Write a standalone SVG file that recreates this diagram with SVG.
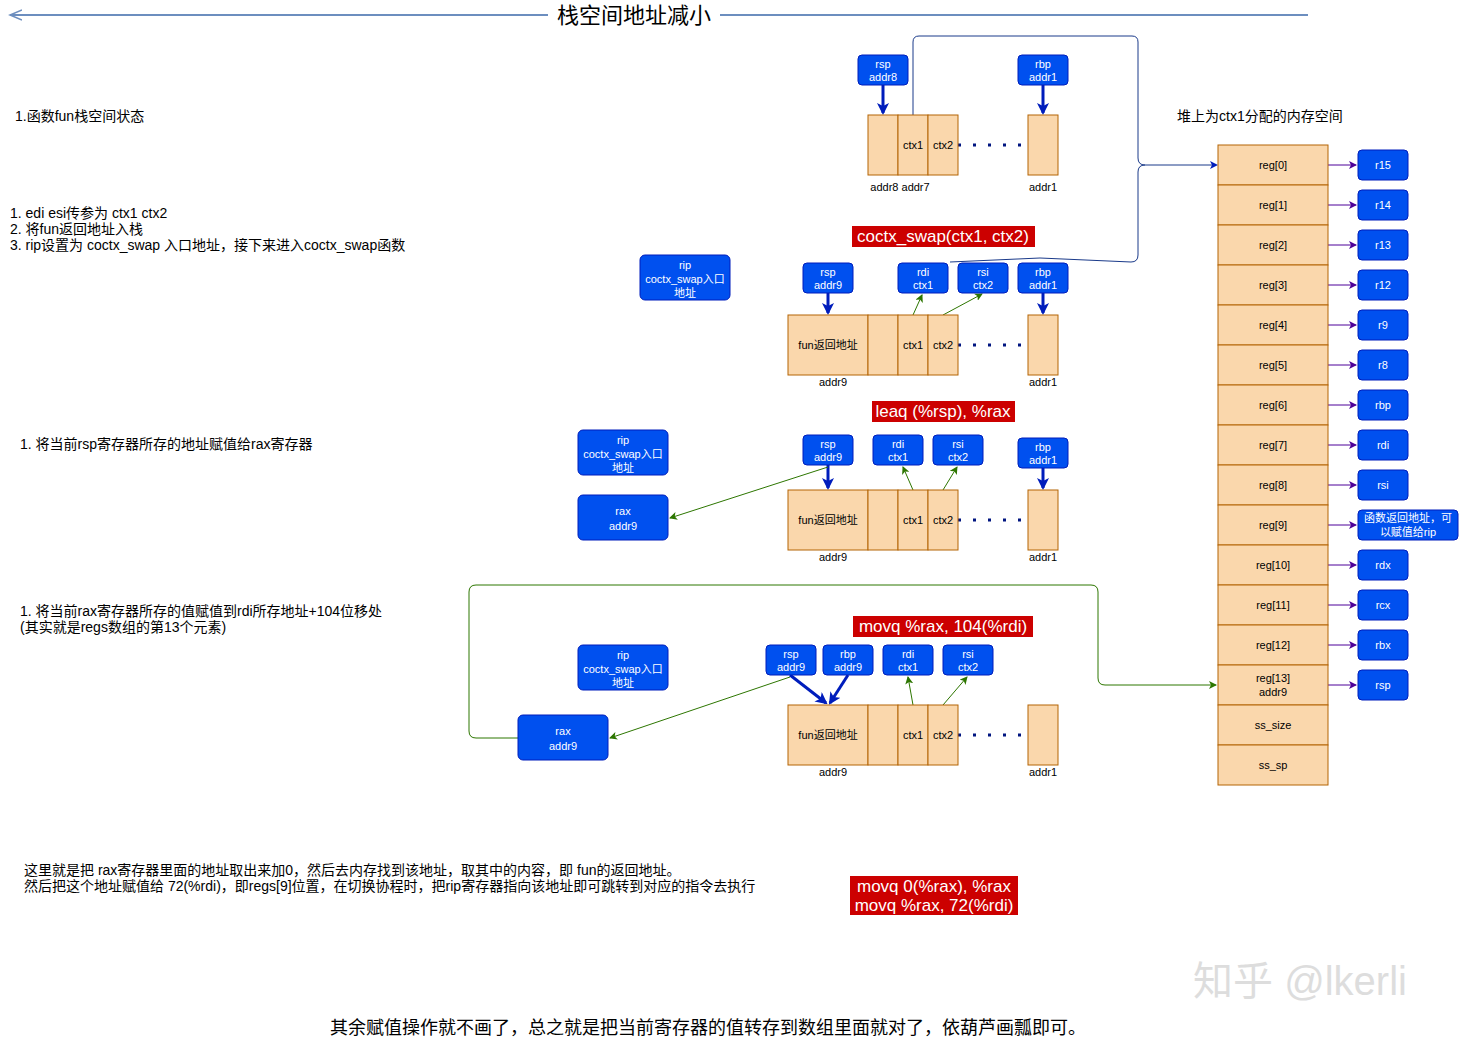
<svg xmlns="http://www.w3.org/2000/svg" width="1459" height="1039" viewBox="0 0 1459 1039">
<defs>
<style>
text{font-family:"Liberation Sans","Noto Sans CJK SC",sans-serif;}
.t{font-size:14px;fill:#000}
.bx{fill:#0050ef;stroke:#001dbc;stroke-width:1}
.bt{font-size:11px;fill:#fff;text-anchor:middle}
.c{fill:#fad7ac;stroke:#b46504;stroke-width:1}
.ct{font-size:11px;fill:#000;text-anchor:middle}
.lb{font-size:11px;fill:#000;text-anchor:middle}
.red{fill:#c00;}
.rt{font-size:17px;fill:#fff;text-anchor:middle}
.thick{stroke:#001dbc;stroke-width:3;fill:none}
.green{stroke:#2d7600;stroke-width:1;fill:none}
.dots{stroke:#001580;stroke-width:3;stroke-dasharray:3 12;fill:none}
.pur{stroke:#4c0099;stroke-width:1;fill:none}
</style>
<marker id="ab" markerWidth="8" markerHeight="8" refX="6" refY="4" orient="auto" markerUnits="userSpaceOnUse"><path d="M0,0 L8,4 L0,8 L2,4z" fill="#001dbc"/></marker>
<marker id="abig" markerWidth="12" markerHeight="12" refX="10" refY="6" orient="auto" markerUnits="userSpaceOnUse"><path d="M0,0 L12,6 L0,12 L3,6z" fill="#001dbc"/></marker>
<marker id="ag" markerWidth="8" markerHeight="8" refX="7" refY="4" orient="auto" markerUnits="userSpaceOnUse"><path d="M0,0 L8,4 L0,8 L2,4z" fill="#2d7600"/></marker>
<marker id="ap" markerWidth="8" markerHeight="8" refX="7" refY="4" orient="auto" markerUnits="userSpaceOnUse"><path d="M0,0 L8,4 L0,8 L2,4z" fill="#4c0099"/></marker>
<marker id="at" markerWidth="14" markerHeight="12" refX="12" refY="6" orient="auto" markerUnits="userSpaceOnUse"><path d="M0,1 L12,6 L0,11" fill="none" stroke="#6c8ebf" stroke-width="1.5"/></marker>
</defs>
<rect width="1459" height="1039" fill="#fff"/>
<g id="connectors">
<line x1="1308" y1="15" x2="10" y2="15" stroke="#6c8ebf" stroke-width="2" marker-end="url(#at)"/>
<path d="M913 115 V42 Q913 36 919 36 H1132 Q1138 36 1138 42 V158 Q1138 165 1145 165 H1216" stroke="#1a3a8a" stroke-width="1" fill="none" marker-end="url(#ab)"/>
<path d="M1145 165 Q1138 165 1138 172 V255 Q1138 262 1131 262 L1040 258 L950 262" stroke="#1a3a8a" stroke-width="1" fill="none"/>
<line x1="958" y1="145" x2="1028" y2="145" class="dots"/>
<line x1="958" y1="345" x2="1028" y2="345" class="dots"/>
<line x1="958" y1="520" x2="1028" y2="520" class="dots"/>
<line x1="958" y1="735" x2="1028" y2="735" class="dots"/>
<line x1="883" y1="85" x2="883" y2="113" class="thick" marker-end="url(#abig)"/>
<line x1="1043" y1="85" x2="1043" y2="113" class="thick" marker-end="url(#abig)"/>
<line x1="828" y1="293" x2="828" y2="313" class="thick" marker-end="url(#abig)"/>
<line x1="1043" y1="293" x2="1043" y2="313" class="thick" marker-end="url(#abig)"/>
<line x1="913" y1="315" x2="922" y2="295" class="green" marker-end="url(#ag)"/>
<line x1="943" y1="315" x2="982" y2="294" class="green" marker-end="url(#ag)"/>
<line x1="828" y1="465" x2="828" y2="488" class="thick" marker-end="url(#abig)"/>
<line x1="1043" y1="468" x2="1043" y2="488" class="thick" marker-end="url(#abig)"/>
<line x1="913" y1="490" x2="903" y2="467" class="green" marker-end="url(#ag)"/>
<line x1="943" y1="490" x2="957" y2="467" class="green" marker-end="url(#ag)"/>
<line x1="828" y1="467" x2="670" y2="518" class="green" marker-end="url(#ag)"/>
<line x1="790" y1="675" x2="826" y2="703" class="thick" marker-end="url(#abig)"/>
<line x1="848" y1="675" x2="830" y2="703" class="thick" marker-end="url(#abig)"/>
<line x1="913" y1="705" x2="908" y2="677" class="green" marker-end="url(#ag)"/>
<line x1="943" y1="705" x2="967" y2="677" class="green" marker-end="url(#ag)"/>
<line x1="790" y1="677" x2="610" y2="738" class="green" marker-end="url(#ag)"/>
<path d="M518 738 H476 Q469 738 469 731 V592 Q469 585 476 585 H1091 Q1098 585 1098 592 V678 Q1098 685 1105 685 H1216" class="green" marker-end="url(#ag)"/>
<g class="pur">
<line x1="1328" y1="165" x2="1356" y2="165" marker-end="url(#ap)"/>
<line x1="1328" y1="205" x2="1356" y2="205" marker-end="url(#ap)"/>
<line x1="1328" y1="245" x2="1356" y2="245" marker-end="url(#ap)"/>
<line x1="1328" y1="285" x2="1356" y2="285" marker-end="url(#ap)"/>
<line x1="1328" y1="325" x2="1356" y2="325" marker-end="url(#ap)"/>
<line x1="1328" y1="365" x2="1356" y2="365" marker-end="url(#ap)"/>
<line x1="1328" y1="405" x2="1356" y2="405" marker-end="url(#ap)"/>
<line x1="1328" y1="445" x2="1356" y2="445" marker-end="url(#ap)"/>
<line x1="1328" y1="485" x2="1356" y2="485" marker-end="url(#ap)"/>
<line x1="1328" y1="525" x2="1356" y2="525" marker-end="url(#ap)"/>
<line x1="1328" y1="565" x2="1356" y2="565" marker-end="url(#ap)"/>
<line x1="1328" y1="605" x2="1356" y2="605" marker-end="url(#ap)"/>
<line x1="1328" y1="645" x2="1356" y2="645" marker-end="url(#ap)"/>
<line x1="1328" y1="685" x2="1356" y2="685" marker-end="url(#ap)"/>
</g>
</g>
<g id="title"><rect x="548" y="3" width="172" height="24" fill="#fff"/><text x="634" y="23" font-size="22" text-anchor="middle" fill="#000">栈空间地址减小</text></g>
<g id="texts">
<text class="t" x="15" y="121">1.函数fun栈空间状态</text>
<text class="t" x="10" y="218">1. edi esi传参为 ctx1 ctx2</text>
<text class="t" x="10" y="234">2. 将fun返回地址入栈</text>
<text class="t" x="10" y="250">3. rip设置为 coctx_swap 入口地址，接下来进入coctx_swap函数</text>
<text class="t" x="20" y="449">1. 将当前rsp寄存器所存的地址赋值给rax寄存器</text>
<text class="t" x="20" y="616">1. 将当前rax寄存器所存的值赋值到rdi所存地址+104位移处</text>
<text class="t" x="20" y="632">(其实就是regs数组的第13个元素)</text>
<text class="t" x="1177" y="121">堆上为ctx1分配的内存空间</text>
<text class="t" x="24" y="875">这里就是把 rax寄存器里面的地址取出来加0，然后去内存找到该地址，取其中的内容，即 fun的返回地址。</text>
<text class="t" x="24" y="891">然后把这个地址赋值给 72(%rdi)，即regs[9]位置，在切换协程时，把rip寄存器指向该地址即可跳转到对应的指令去执行</text>
<text x="708" y="1034" font-size="18" text-anchor="middle" fill="#000">其余赋值操作就不画了，总之就是把当前寄存器的值转存到数组里面就对了，依葫芦画瓢即可。</text>
<text x="1300" y="995" font-size="40" text-anchor="middle" fill="#ddd">知乎 @lkerli</text>
</g>
<g id="red-labels">
<rect class="red" x="852" y="226" width="183" height="21"/><text class="rt" x="943" y="242">coctx_swap(ctx1, ctx2)</text>
<rect class="red" x="872" y="401" width="143" height="21"/><text class="rt" x="943" y="417">leaq (%rsp), %rax</text>
<rect class="red" x="853" y="616" width="180" height="21"/><text class="rt" x="943" y="632">movq %rax, 104(%rdi)</text>
<rect class="red" x="850" y="876" width="168" height="39"/><text class="rt" x="934" y="892">movq 0(%rax), %rax</text><text class="rt" x="934" y="911">movq %rax, 72(%rdi)</text>
</g>
<g id="stack1">
<rect class="c" x="868" y="115" width="30" height="60"/><rect class="c" x="898" y="115" width="30" height="60"/><rect class="c" x="928" y="115" width="30" height="60"/><rect class="c" x="1028" y="115" width="30" height="60"/>
<text class="ct" x="913" y="149">ctx1</text><text class="ct" x="943" y="149">ctx2</text>
<text class="lb" x="900" y="191">addr8 addr7</text><text class="lb" x="1043" y="191">addr1</text>
</g>
<g id="regs1">
<rect class="bx" x="858" y="55" width="50" height="30" rx="4"/><text class="bt" x="883" y="68">rsp</text><text class="bt" x="883" y="81">addr8</text>
<rect class="bx" x="1018" y="55" width="50" height="30" rx="4"/><text class="bt" x="1043" y="68">rbp</text><text class="bt" x="1043" y="81">addr1</text>
</g>
<g id="stack2">
<rect class="c" x="788" y="315" width="80" height="60"/><rect class="c" x="868" y="315" width="30" height="60"/><rect class="c" x="898" y="315" width="30" height="60"/><rect class="c" x="928" y="315" width="30" height="60"/><rect class="c" x="1028" y="315" width="30" height="60"/>
<text class="ct" x="828" y="349">fun返回地址</text><text class="ct" x="913" y="349">ctx1</text><text class="ct" x="943" y="349">ctx2</text>
<text class="lb" x="833" y="386">addr9</text><text class="lb" x="1043" y="386">addr1</text>
</g>
<g id="regs2">
<rect class="bx" x="803" y="263" width="50" height="30" rx="4"/><text class="bt" x="828" y="276">rsp</text><text class="bt" x="828" y="289">addr9</text>
<rect class="bx" x="898" y="263" width="50" height="30" rx="4"/><text class="bt" x="923" y="276">rdi</text><text class="bt" x="923" y="289">ctx1</text>
<rect class="bx" x="958" y="263" width="50" height="30" rx="4"/><text class="bt" x="983" y="276">rsi</text><text class="bt" x="983" y="289">ctx2</text>
<rect class="bx" x="1018" y="263" width="50" height="30" rx="4"/><text class="bt" x="1043" y="276">rbp</text><text class="bt" x="1043" y="289">addr1</text>
<rect class="bx" x="640" y="255" width="90" height="45" rx="5"/><text class="bt" x="685" y="269">rip</text><text class="bt" x="685" y="283">coctx_swap入口</text><text class="bt" x="685" y="297">地址</text>
</g>
<g id="stack3">
<rect class="c" x="788" y="490" width="80" height="60"/><rect class="c" x="868" y="490" width="30" height="60"/><rect class="c" x="898" y="490" width="30" height="60"/><rect class="c" x="928" y="490" width="30" height="60"/><rect class="c" x="1028" y="490" width="30" height="60"/>
<text class="ct" x="828" y="524">fun返回地址</text><text class="ct" x="913" y="524">ctx1</text><text class="ct" x="943" y="524">ctx2</text>
<text class="lb" x="833" y="561">addr9</text><text class="lb" x="1043" y="561">addr1</text>
</g>
<g id="regs3">
<rect class="bx" x="803" y="435" width="50" height="30" rx="4"/><text class="bt" x="828" y="448">rsp</text><text class="bt" x="828" y="461">addr9</text>
<rect class="bx" x="873" y="435" width="50" height="30" rx="4"/><text class="bt" x="898" y="448">rdi</text><text class="bt" x="898" y="461">ctx1</text>
<rect class="bx" x="933" y="435" width="50" height="30" rx="4"/><text class="bt" x="958" y="448">rsi</text><text class="bt" x="958" y="461">ctx2</text>
<rect class="bx" x="1018" y="438" width="50" height="30" rx="4"/><text class="bt" x="1043" y="451">rbp</text><text class="bt" x="1043" y="464">addr1</text>
<rect class="bx" x="578" y="430" width="90" height="45" rx="5"/><text class="bt" x="623" y="444">rip</text><text class="bt" x="623" y="458">coctx_swap入口</text><text class="bt" x="623" y="472">地址</text>
<rect class="bx" x="578" y="495" width="90" height="45" rx="5"/><text class="bt" x="623" y="515">rax</text><text class="bt" x="623" y="530">addr9</text>
</g>
<g id="stack4">
<rect class="c" x="788" y="705" width="80" height="60"/><rect class="c" x="868" y="705" width="30" height="60"/><rect class="c" x="898" y="705" width="30" height="60"/><rect class="c" x="928" y="705" width="30" height="60"/><rect class="c" x="1028" y="705" width="30" height="60"/>
<text class="ct" x="828" y="739">fun返回地址</text><text class="ct" x="913" y="739">ctx1</text><text class="ct" x="943" y="739">ctx2</text>
<text class="lb" x="833" y="776">addr9</text><text class="lb" x="1043" y="776">addr1</text>
</g>
<g id="regs4">
<rect class="bx" x="766" y="645" width="50" height="30" rx="4"/><text class="bt" x="791" y="658">rsp</text><text class="bt" x="791" y="671">addr9</text>
<rect class="bx" x="823" y="645" width="50" height="30" rx="4"/><text class="bt" x="848" y="658">rbp</text><text class="bt" x="848" y="671">addr9</text>
<rect class="bx" x="883" y="645" width="50" height="30" rx="4"/><text class="bt" x="908" y="658">rdi</text><text class="bt" x="908" y="671">ctx1</text>
<rect class="bx" x="943" y="645" width="50" height="30" rx="4"/><text class="bt" x="968" y="658">rsi</text><text class="bt" x="968" y="671">ctx2</text>
<rect class="bx" x="578" y="645" width="90" height="45" rx="5"/><text class="bt" x="623" y="659">rip</text><text class="bt" x="623" y="673">coctx_swap入口</text><text class="bt" x="623" y="687">地址</text>
<rect class="bx" x="518" y="715" width="90" height="45" rx="5"/><text class="bt" x="563" y="735">rax</text><text class="bt" x="563" y="750">addr9</text>
</g>
<g id="regs-array">
<rect class="c" x="1218" y="145" width="110" height="40"/><text class="ct" x="1273" y="169">reg[0]</text>
<rect class="c" x="1218" y="185" width="110" height="40"/><text class="ct" x="1273" y="209">reg[1]</text>
<rect class="c" x="1218" y="225" width="110" height="40"/><text class="ct" x="1273" y="249">reg[2]</text>
<rect class="c" x="1218" y="265" width="110" height="40"/><text class="ct" x="1273" y="289">reg[3]</text>
<rect class="c" x="1218" y="305" width="110" height="40"/><text class="ct" x="1273" y="329">reg[4]</text>
<rect class="c" x="1218" y="345" width="110" height="40"/><text class="ct" x="1273" y="369">reg[5]</text>
<rect class="c" x="1218" y="385" width="110" height="40"/><text class="ct" x="1273" y="409">reg[6]</text>
<rect class="c" x="1218" y="425" width="110" height="40"/><text class="ct" x="1273" y="449">reg[7]</text>
<rect class="c" x="1218" y="465" width="110" height="40"/><text class="ct" x="1273" y="489">reg[8]</text>
<rect class="c" x="1218" y="505" width="110" height="40"/><text class="ct" x="1273" y="529">reg[9]</text>
<rect class="c" x="1218" y="545" width="110" height="40"/><text class="ct" x="1273" y="569">reg[10]</text>
<rect class="c" x="1218" y="585" width="110" height="40"/><text class="ct" x="1273" y="609">reg[11]</text>
<rect class="c" x="1218" y="625" width="110" height="40"/><text class="ct" x="1273" y="649">reg[12]</text>
<rect class="c" x="1218" y="665" width="110" height="40"/><text class="ct" x="1273" y="682">reg[13]</text><text class="ct" x="1273" y="696">addr9</text>
<rect class="c" x="1218" y="705" width="110" height="40"/><text class="ct" x="1273" y="729">ss_size</text>
<rect class="c" x="1218" y="745" width="110" height="40"/><text class="ct" x="1273" y="769">ss_sp</text>
</g>
<g id="reg-names">
<rect class="bx" x="1358" y="150" width="50" height="30" rx="4"/><text class="bt" x="1383" y="169">r15</text>
<rect class="bx" x="1358" y="190" width="50" height="30" rx="4"/><text class="bt" x="1383" y="209">r14</text>
<rect class="bx" x="1358" y="230" width="50" height="30" rx="4"/><text class="bt" x="1383" y="249">r13</text>
<rect class="bx" x="1358" y="270" width="50" height="30" rx="4"/><text class="bt" x="1383" y="289">r12</text>
<rect class="bx" x="1358" y="310" width="50" height="30" rx="4"/><text class="bt" x="1383" y="329">r9</text>
<rect class="bx" x="1358" y="350" width="50" height="30" rx="4"/><text class="bt" x="1383" y="369">r8</text>
<rect class="bx" x="1358" y="390" width="50" height="30" rx="4"/><text class="bt" x="1383" y="409">rbp</text>
<rect class="bx" x="1358" y="430" width="50" height="30" rx="4"/><text class="bt" x="1383" y="449">rdi</text>
<rect class="bx" x="1358" y="470" width="50" height="30" rx="4"/><text class="bt" x="1383" y="489">rsi</text>
<rect class="bx" x="1358" y="510" width="100" height="30" rx="4"/><text class="bt" x="1408" y="522">函数返回地址，可</text><text class="bt" x="1408" y="536">以赋值给rip</text>
<rect class="bx" x="1358" y="550" width="50" height="30" rx="4"/><text class="bt" x="1383" y="569">rdx</text>
<rect class="bx" x="1358" y="590" width="50" height="30" rx="4"/><text class="bt" x="1383" y="609">rcx</text>
<rect class="bx" x="1358" y="630" width="50" height="30" rx="4"/><text class="bt" x="1383" y="649">rbx</text>
<rect class="bx" x="1358" y="670" width="50" height="30" rx="4"/><text class="bt" x="1383" y="689">rsp</text>
</g>
</svg>
